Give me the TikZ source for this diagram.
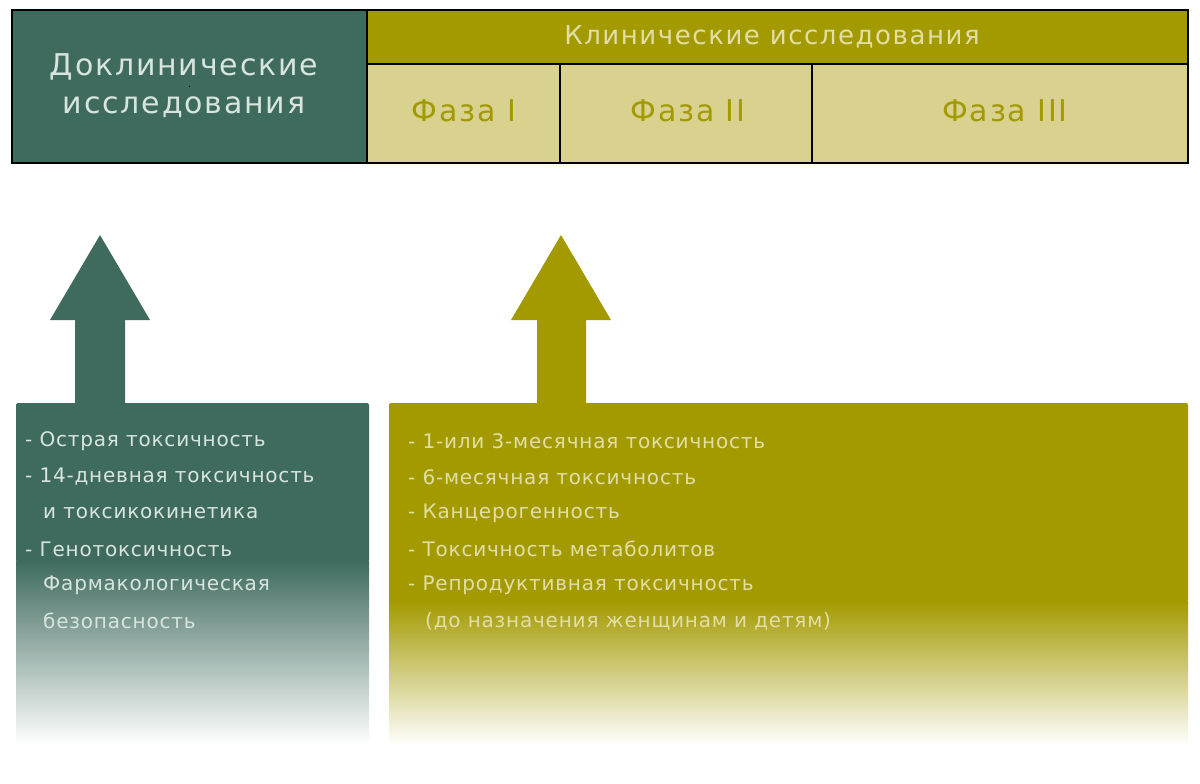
\documentclass[tikz,border=0pt]{standalone}
\usepackage{fontspec}
\setmainfont[LetterSpace=6]{DejaVu Sans}
\newfontfamily\listfont[LetterSpace=4]{DejaVu Sans}
\definecolor{dg}{HTML}{3F6B5E}
\definecolor{ol}{HTML}{A39A00}
\definecolor{lo}{HTML}{D8D28E}
\definecolor{tl}{HTML}{E2DEA6}
\definecolor{tg}{HTML}{D8E4DE}
\begin{document}
\begin{tikzpicture}[x=1pt,y=-1pt,
  cell/.style={draw=black,line width=1.5pt},
  lst/.style={anchor=west,font=\listfont\fontsize{20}{24}\selectfont,inner sep=0pt}]
\useasboundingbox (0,0) rectangle (1200,784);
% top
\fill[dg] (12,10) rectangle (367,163);
\fill[ol] (367,10) rectangle (1188,64);
\fill[lo] (367,64) rectangle (1188,163);
\node[cell,minimum width=0,inner sep=0] (pre) at (189.5,86.5) {};
\draw[cell] (12,10) rectangle (367,163);
\draw[cell] (367,10) rectangle (1188,64);
\draw[cell] (367,64) rectangle (560,163);
\draw[cell] (560,64) rectangle (812,163);
\draw[cell] (812,64) rectangle (1188,163);
\node[font=\fontsize{30}{38}\selectfont,text=tg,align=center] (pt) at (184,86) {Доклинические\\исследования};
\node[font=\fontsize{26}{30}\selectfont,text=tl] (ct) at (772,37) {Клинические исследования};
\node[font=\fontsize{30}{36}\selectfont,text=ol] (f1) at (464,111) {Фаза I};
\node[font=\fontsize{30}{36}\selectfont,text=ol] (f2) at (688,111) {Фаза II};
\node[font=\fontsize{30}{36}\selectfont,text=ol] (f3) at (1005,111) {Фаза III};
% arrows
\fill[dg] (100,235) -- (150,320) -- (125,320) -- (125,404) -- (75,404) -- (75,320) -- (50,320) -- cycle;
\fill[ol] (561,235) -- (611,320) -- (586,320) -- (586,404) -- (537,404) -- (537,320) -- (511,320) -- cycle;
% boxes
\fill[dg,rounded corners=2pt] (16,403) rectangle (369,562);
\shade[top color=dg,bottom color=white] (16,561) rectangle (369,745);
\fill[ol,rounded corners=2pt] (389,403) rectangle (1188,602);
\shade[top color=ol,bottom color=white] (389,601) rectangle (1188,745);
\begin{scope}[every node/.append style={lst,text=tg}]
\node at (25,441) {- Острая токсичность};
\node at (25,477) {- 14-дневная токсичность};
\node at (43,513) {и токсикокинетика};
\node at (25,549) {- Генотоксичность};
\node at (43,585) {Фармакологическая};
\node at (43,621) {безопасность};
\end{scope}
\begin{scope}[every node/.append style={lst,text=tl}]
\node at (408,441) {- 1-или 3-месячная токсичность};
\node at (408,477) {- 6-месячная токсичность};
\node at (408,513) {- Канцерогенность};
\node at (408,549) {- Токсичность метаболитов};
\node at (408,585) {- Репродуктивная токсичность};
\node at (425,621) {(до назначения женщинам и детям)};
\end{scope}
\end{tikzpicture}
\end{document}
